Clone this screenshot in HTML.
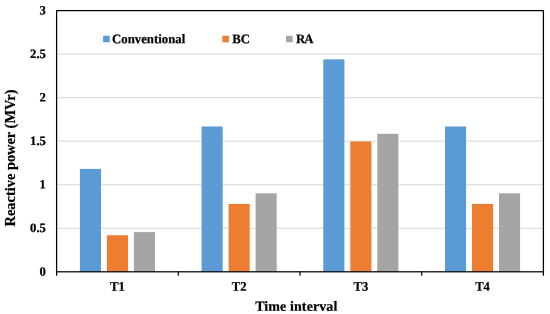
<!DOCTYPE html>
<html><head><meta charset="utf-8"><title>Reactive power chart</title>
<style>html,body{margin:0;padding:0;background:#fff}svg{display:block}text{font-family:"Liberation Serif","Times New Roman",serif;font-weight:bold;fill:#000;stroke:#000;stroke-width:0.22px}</style></head>
<body>
<svg width="550" height="314" viewBox="0 0 550 314">
<rect x="0" y="0" width="550" height="314" fill="#fff"/>
<line x1="56.6" x2="543.4" y1="228.27" y2="228.27" stroke="#D9D9D9" stroke-width="1"/>
<line x1="56.6" x2="543.4" y1="184.73" y2="184.73" stroke="#D9D9D9" stroke-width="1"/>
<line x1="56.6" x2="543.4" y1="141.20" y2="141.20" stroke="#D9D9D9" stroke-width="1"/>
<line x1="56.6" x2="543.4" y1="97.67" y2="97.67" stroke="#D9D9D9" stroke-width="1"/>
<line x1="56.6" x2="543.4" y1="54.13" y2="54.13" stroke="#D9D9D9" stroke-width="1"/>
<rect x="79.90" y="168.89" width="21.1" height="102.91" fill="#5B9BD5"/>
<rect x="106.90" y="235.23" width="21.1" height="36.57" fill="#ED7D31"/>
<rect x="133.90" y="232.10" width="21.1" height="39.70" fill="#A5A5A5"/>
<rect x="201.60" y="126.49" width="21.1" height="145.31" fill="#5B9BD5"/>
<rect x="228.60" y="203.89" width="21.1" height="67.91" fill="#ED7D31"/>
<rect x="255.60" y="193.27" width="21.1" height="78.53" fill="#A5A5A5"/>
<rect x="323.30" y="59.36" width="21.1" height="212.44" fill="#5B9BD5"/>
<rect x="350.30" y="141.46" width="21.1" height="130.34" fill="#ED7D31"/>
<rect x="377.30" y="133.80" width="21.1" height="138.00" fill="#A5A5A5"/>
<rect x="445.00" y="126.49" width="21.1" height="145.31" fill="#5B9BD5"/>
<rect x="472.00" y="203.89" width="21.1" height="67.91" fill="#ED7D31"/>
<rect x="499.00" y="193.27" width="21.1" height="78.53" fill="#A5A5A5"/>
<rect x="56.6" y="10.6" width="486.80" height="261.20" fill="none" stroke="#000" stroke-width="1.25"/>
<line x1="56.60" x2="56.60" y1="271.8" y2="275.70" stroke="#000" stroke-width="1.2"/>
<line x1="178.30" x2="178.30" y1="271.8" y2="275.70" stroke="#000" stroke-width="1.2"/>
<line x1="300.00" x2="300.00" y1="271.8" y2="275.70" stroke="#000" stroke-width="1.2"/>
<line x1="421.70" x2="421.70" y1="271.8" y2="275.70" stroke="#000" stroke-width="1.2"/>
<line x1="543.40" x2="543.40" y1="271.8" y2="275.70" stroke="#000" stroke-width="1.2"/>
<text transform="translate(45.9,275.65) rotate(0.05) scale(1,1.01)" font-size="12.7" text-anchor="end">0</text>
<text transform="translate(45.9,232.12) rotate(0.05) scale(1,1.01)" font-size="12.7" text-anchor="end">0.5</text>
<text transform="translate(45.9,188.58) rotate(0.05) scale(1,1.01)" font-size="12.7" text-anchor="end">1</text>
<text transform="translate(45.9,145.05) rotate(0.05) scale(1,1.01)" font-size="12.7" text-anchor="end">1.5</text>
<text transform="translate(45.9,101.52) rotate(0.05) scale(1,1.01)" font-size="12.7" text-anchor="end">2</text>
<text transform="translate(45.9,57.98) rotate(0.05) scale(1,1.01)" font-size="12.7" text-anchor="end">2.5</text>
<text transform="translate(45.9,14.45) rotate(0.05) scale(1,1.01)" font-size="12.7" text-anchor="end">3</text>
<text transform="translate(117.45,290.8) rotate(0.05) scale(1,1.03)" font-size="12.7" text-anchor="middle">T1</text>
<text transform="translate(239.15,290.8) rotate(0.05) scale(1,1.03)" font-size="12.7" text-anchor="middle">T2</text>
<text transform="translate(360.85,290.8) rotate(0.05) scale(1,1.03)" font-size="12.7" text-anchor="middle">T3</text>
<text transform="translate(482.55,290.8) rotate(0.05) scale(1,1.03)" font-size="12.7" text-anchor="middle">T4</text>
<text transform="translate(296.3,310.8) rotate(0.05)" font-size="14" letter-spacing="0.1" text-anchor="middle">Time interval</text>
<text transform="translate(15.0,158) rotate(-90)" font-size="14.4" text-anchor="middle">Reactive power (MVr)</text>
<rect x="103.1" y="35.75" width="6.6" height="6.5" fill="#5B9BD5"/>
<text transform="translate(112.0,43.25) rotate(0.05) scale(1,1.03)" font-size="12.8" letter-spacing="0">Conventional</text>
<rect x="222.3" y="35.75" width="6.6" height="6.5" fill="#ED7D31"/>
<text transform="translate(232.2,43.25) rotate(0.05) scale(1,1.03)" font-size="12.8" letter-spacing="0">BC</text>
<rect x="286.0" y="35.75" width="6.6" height="6.5" fill="#A5A5A5"/>
<text transform="translate(296.0,43.25) rotate(0.05) scale(1,1.03)" font-size="12.8" letter-spacing="-0.9">RA</text>
</svg>
</body></html>
